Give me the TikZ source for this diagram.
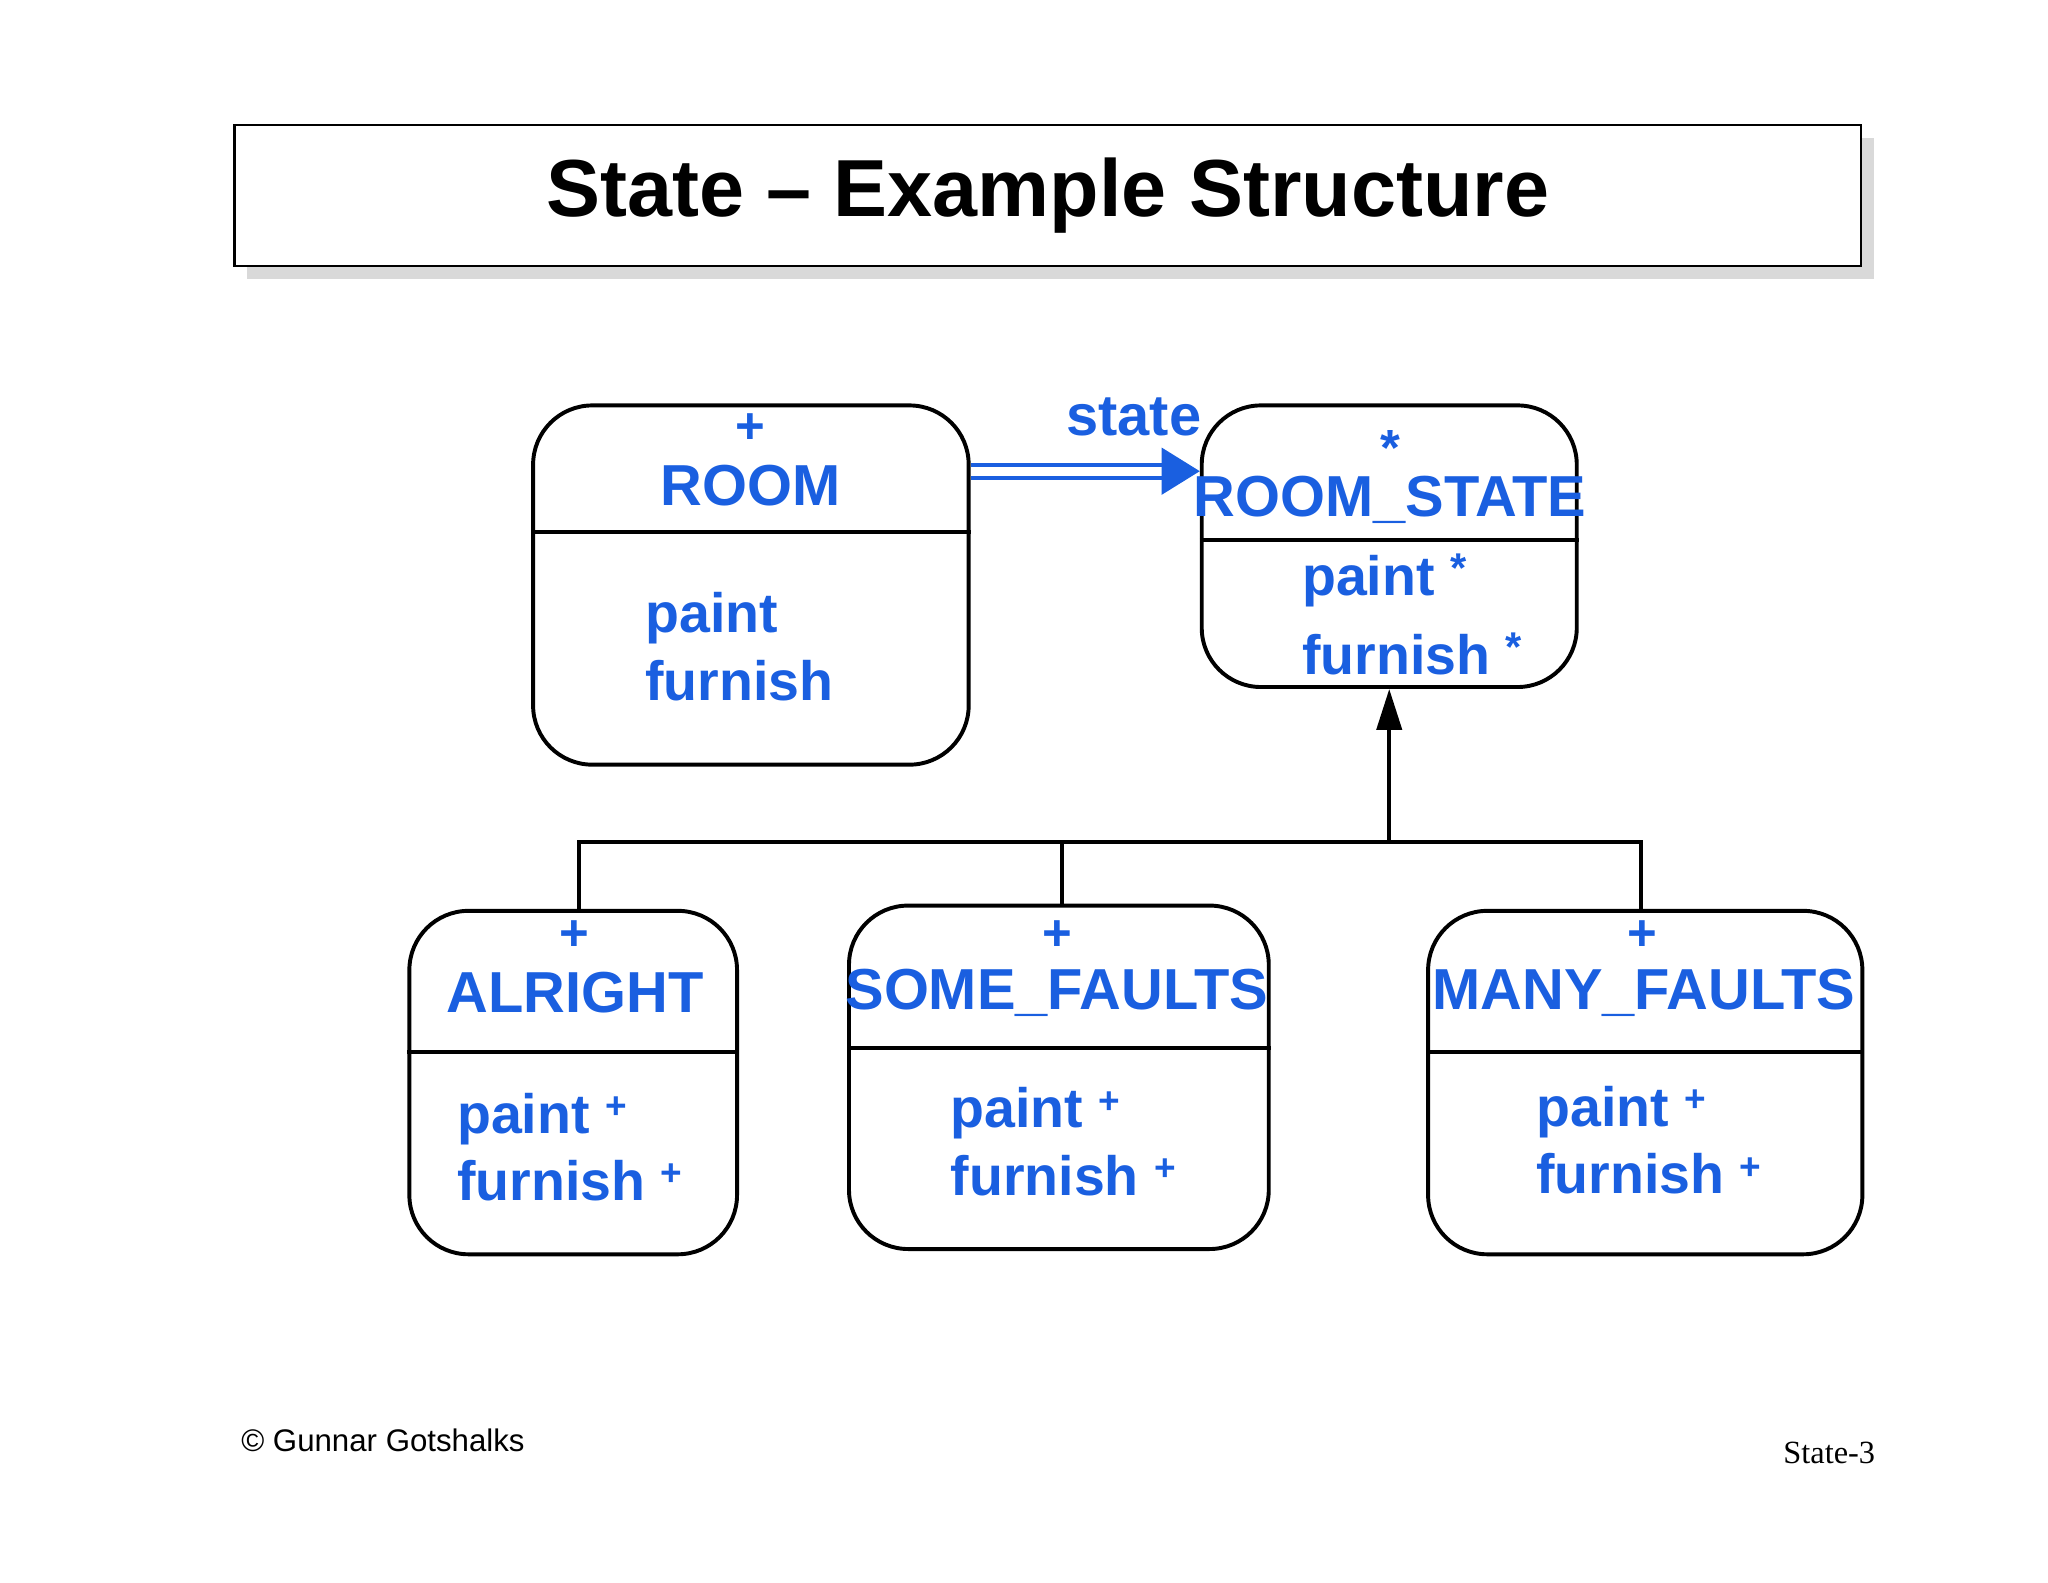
\documentclass[tikz,border=0pt]{standalone}
\usepackage{fontspec}
\setmainfont{Liberation Sans}
\usepackage{xcolor}
\usetikzlibrary{arrows.meta,shapes,positioning,calc}
\definecolor{umlblue}{HTML}{1A5FE0}

\begin{document}
\begin{tikzpicture}[
    x=0.02cm, y=-0.02cm,
    box/.style={rectangle, rounded corners=0.9cm, draw, line width=1.7pt, inner sep=0pt},
    cname/.style={text=umlblue, font=\bfseries\fontsize{25}{28}\selectfont, inner sep=0pt},
    feat/.style={text=umlblue, font=\bfseries\fontsize{24}{28}\selectfont, inner sep=0pt, anchor=west},
    tag/.style={text=umlblue, font=\bfseries\fontsize{22}{24}\selectfont, inner sep=0pt},
    sepline/.style={line width=1.7pt},
    inherit/.style={line width=1.7pt, -{Triangle[length=0.62cm, width=0.38cm]}}
]
    \useasboundingbox (0,0) rectangle (1556,1202);

    % title
    \fill[black!15] (188,105) rectangle (1424,212);
    \node[draw, line width=1pt, fill=white, minimum width=24.72cm, minimum height=2.14cm] (title) at (796,148.5) {};
    \node[font=\bfseries\fontsize{35}{40}\selectfont] at (title.center) {State -- Example Structure};

    % classes
    \node[box, minimum width=6.62cm, minimum height=5.46cm] (room) at (570.5,444.5) {};
    \node[box, minimum width=5.7cm, minimum height=4.28cm] (roomstate) at (1055.5,415) {};
    \node[box, minimum width=4.98cm, minimum height=5.22cm] (alright) at (435.5,822.5) {};
    \node[box, minimum width=6.38cm, minimum height=5.22cm] (somefaults) at (804.5,818.5) {};
    \node[box, minimum width=6.6cm, minimum height=5.22cm] (manyfaults) at (1250,822.5) {};

    \draw[sepline] (room.west |- 0,404) -- (room.east |- 0,404);
    \draw[sepline] (roomstate.west |- 0,410) -- (roomstate.east |- 0,410);
    \draw[sepline] (alright.west |- 0,799) -- (alright.east |- 0,799);
    \draw[sepline] (somefaults.west |- 0,796) -- (somefaults.east |- 0,796);
    \draw[sepline] (manyfaults.west |- 0,799) -- (manyfaults.east |- 0,799);

    \node[tag] at (570,326) {+};
    \node[cname] at (570,369) {ROOM};
    \node[feat] at (490,470) {paint};
    \node[feat] at (490,517) {furnish};

    \node[tag] at (1056,340) {*};
    \node[cname] at (1056,380) {ROOM\_STATE};
    \node[feat] at (989,441) {paint \raisebox{0.45ex}{\fontsize{18}{20}\selectfont *}};
    \node[feat] at (989,497) {furnish \raisebox{0.45ex}{\fontsize{18}{20}\selectfont *}};

    \node[tag] at (436,711) {+};
    \node[cname] at (437,754) {ALRIGHT};
    \node[feat] at (347,850) {paint \raisebox{0.5ex}{\fontsize{16}{20}\selectfont +}};
    \node[feat] at (347,897) {furnish \raisebox{0.5ex}{\fontsize{16}{20}\selectfont +}};

    \node[tag] at (803,711) {+};
    \node[cname] at (803,754) {SOME\_FAULTS};
    \node[feat] at (722,846) {paint \raisebox{0.5ex}{\fontsize{16}{20}\selectfont +}};
    \node[feat] at (722,893) {furnish \raisebox{0.5ex}{\fontsize{16}{20}\selectfont +}};

    \node[tag] at (1248,711) {+};
    \node[cname] at (1249,754) {MANY\_FAULTS};
    \node[feat] at (1167,845) {paint \raisebox{0.5ex}{\fontsize{16}{20}\selectfont +}};
    \node[feat] at (1167,892) {furnish \raisebox{0.5ex}{\fontsize{16}{20}\selectfont +}};

    % client relation
    \coordinate (cl) at (room.east |- 0,358);
    \coordinate (su) at (roomstate.west |- 0,358);
    \draw[umlblue, line width=1.7pt] ($(cl)+(0,-5)$) -- ($(su)+(-20,-5)$);
    \draw[umlblue, line width=1.7pt] ($(cl)+(0,5)$) -- ($(su)+(-20,5)$);
    \fill[umlblue] (su) -- ++(-29,-18) -- ++(0,36) -- cycle;
    \node[cname, anchor=south east] at (913,332) {state};

    % inheritance
    \coordinate (join) at (roomstate.south |- 0,640);
    \draw[inherit] (join) -- (roomstate.south);
    \draw[sepline] (alright.north -| 440,0) -- (440,640) -- (1247,640) -- (manyfaults.north -| 1247,0);
    \draw[sepline] (somefaults.north -| 807,0) -- (807,640);

    % footer
    \node[anchor=west, font=\fontsize{13.5}{16}\selectfont, inner sep=0pt] (copy) at (183,1094) {\textcopyright\ Gunnar Gotshalks};
    \node[anchor=east, font=\fontspec{Liberation Serif}\fontsize{14}{16}\selectfont, inner sep=0pt] (page) at (1425,1104) {State-3};
\end{tikzpicture}
\end{document}
